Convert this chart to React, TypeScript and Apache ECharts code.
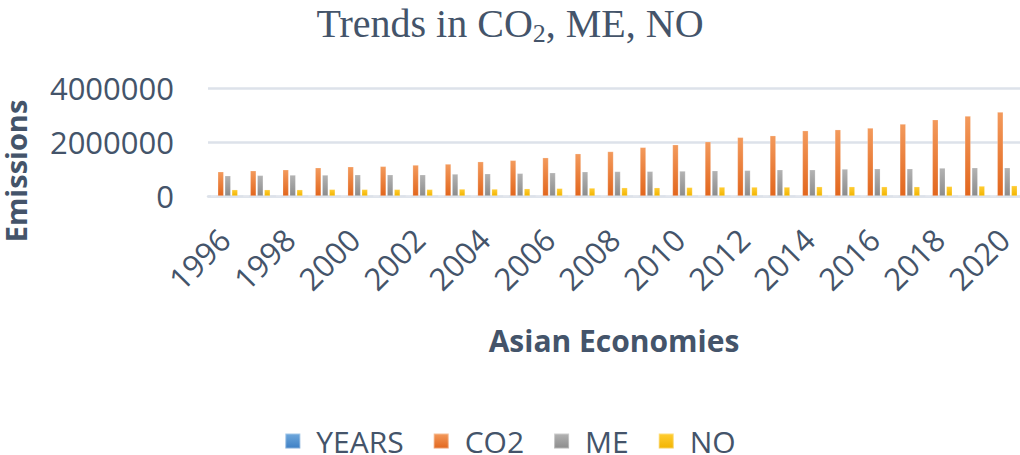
import { useEffect, useRef } from "react";
import * as echarts from "echarts";

const YEARS = [
  "1996", "1997", "1998", "1999", "2000", "2001", "2002", "2003", "2004",
  "2005", "2006", "2007", "2008", "2009", "2010", "2011", "2012", "2013",
  "2014", "2015", "2016", "2017", "2018", "2019", "2020",
];

// the YEARS series is plotted as values too (it is invisible at this scale)
const YEAR_VALUES = [
  1996, 1997, 1998, 1999, 2000, 2001, 2002, 2003, 2004, 2005, 2006, 2007, 2008,
  2009, 2010, 2011, 2012, 2013, 2014, 2015, 2016, 2017, 2018, 2019, 2020,
];

const CO2 = [
  900000, 938000, 975000, 1049000, 1086000, 1099000, 1148000, 1185000, 1272000,
  1321000, 1420000, 1568000, 1648000, 1802000, 1901000, 2012000, 2173000, 2235000,
  2420000, 2457000, 2519000, 2667000, 2827000, 2963000, 3111000,
];

const ME = [
  752000, 765000, 778000, 778000, 790000, 790000, 790000, 815000, 827000,
  840000, 864000, 901000, 910000, 914000, 926000, 938000, 951000, 975000,
  975000, 1000000, 1012000, 1012000, 1037000, 1049000, 1049000,
];

const NO = [
  235000, 235000, 235000, 247000, 247000, 247000, 247000, 259000, 259000,
  272000, 284000, 296000, 309000, 309000, 321000, 333000, 333000, 333000,
  346000, 346000, 346000, 346000, 358000, 370000, 383000,
];

const Y_MAX = 4000000;
const Y_STEP = 2000000;

const TEXT = "#44546a";
const GRID = "#dde2ea";
const FONT = "'Open Sans', 'Liberation Sans', sans-serif";
const SERIF = "'Liberation Serif', 'Times New Roman', serif";

const grad = (top: string, bottom: string) =>
  new echarts.graphic.LinearGradient(0, 0, 0, 1, [
    { offset: 0, color: top },
    { offset: 1, color: bottom },
  ]);

function bar(name: string, data: number[], top: string, bottom: string) {
  return {
    name,
    type: "bar",
    data,
    barWidth: 6,
    barGap: "17%",
    itemStyle: {
      color: grad(top, bottom),
      borderColor: "rgba(255,255,255,0.35)",
      borderWidth: 0.6,
    },
  };
}

export default function App() {
  const chartRef = useRef<HTMLDivElement>(null);

  useEffect(() => {
    if (!chartRef.current) return;
    const chart = echarts.init(chartRef.current, null, { renderer: "svg" });

    chart.setOption({
      animation: false,
      backgroundColor: "#fff",
      title: {
        text: "{a|Trends in CO}{b|2}{a|, ME, NO}",
        left: "center",
        top: 0,
        padding: 0,
        textStyle: {
          rich: {
            a: { fontFamily: SERIF, fontWeight: "normal", fontSize: 40, color: TEXT, lineHeight: 46 },
            b: { fontFamily: SERIF, fontWeight: "normal", fontSize: 26, color: TEXT, lineHeight: 26, verticalAlign: "bottom" },
          },
        },
      },
      grid: { left: 208, right: 0, top: 88, bottom: 259 },
      xAxis: {
        type: "category",
        data: YEARS,
        axisLine: { show: true, lineStyle: { color: GRID, width: 2.5 } },
        axisTick: { show: false },
        axisLabel: {
          interval: 1,
          rotate: 45,
          margin: 38,
          fontFamily: FONT,
          fontSize: 31,
          color: TEXT,
        },
      },
      yAxis: {
        type: "value",
        min: 0,
        max: Y_MAX,
        interval: Y_STEP,
        axisLine: { show: false },
        axisTick: { show: false },
        splitLine: { lineStyle: { color: GRID, width: 2.5 } },
        axisLabel: {
          margin: 34,
          fontFamily: FONT,
          fontSize: 31,
          color: TEXT,
          formatter: (v: number) => String(v),
        },
      },
      legend: {
        left: "center",
        top: 426,
        padding: 0,
        icon: "rect",
        itemWidth: 15,
        itemHeight: 15,
        itemGap: 29,
        textStyle: { fontFamily: FONT, fontSize: 30, lineHeight: 24, color: TEXT, padding: [0, 0, 0, 11] },
        data: ["YEARS", "CO2", "ME", "NO"],
      },
      graphic: [
        {
          type: "text",
          x: 614,
          y: 340,
          style: {
            text: "Asian Economies",
            fontFamily: FONT,
            fontWeight: "bold",
            fontSize: 30,
            fill: TEXT,
            align: "center",
            verticalAlign: "middle",
          },
        },
        {
          type: "text",
          x: 15,
          y: 171,
          rotation: Math.PI / 2,
          style: {
            text: "Emissions",
            fontFamily: FONT,
            fontWeight: "bold",
            fontSize: 29,
            lineHeight: 29,
            fill: TEXT,
            align: "center",
            verticalAlign: "middle",
          },
        },
      ],
      series: [
        bar("YEARS", YEAR_VALUES, "#6fa8dc", "#3d7fc4"),
        bar("CO2", CO2, "#f39a5c", "#e2661d"),
        bar("ME", ME, "#b3b3b3", "#8c8c8c"),
        bar("NO", NO, "#ffcd33", "#f2b400"),
      ],
    });

    return () => chart.dispose();
  }, []);

  return (
    <div
      ref={chartRef}
      style={{ position: "fixed", left: 0, top: 0, width: "1020px", height: "455px" }}
    />
  );
}
